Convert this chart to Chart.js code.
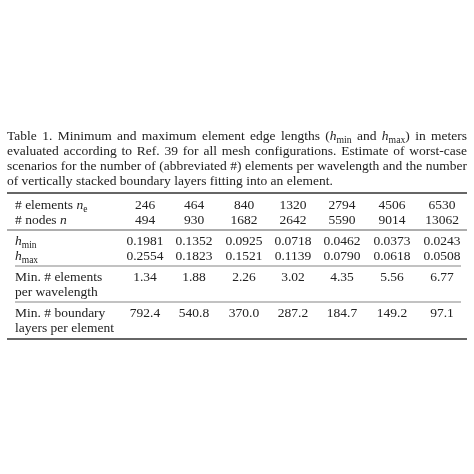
<!DOCTYPE html>
<html>
<head>
<meta charset="utf-8">
<script src="https://cdn.jsdelivr.net/npm/chart.js@4.4.0/dist/chart.umd.min.js"></script>
<style>
  html, body { margin: 0; padding: 0; background: #fff; }
  #wrap { width: 474px; height: 474px; }
</style>
</head>
<body>
<div id="wrap"><canvas id="tbl"></canvas></div>
<script>
// table data
const captionLines = [
  'Table 1. Minimum and maximum element edge lengths (h_min and h_max) in meters',
  'evaluated according to Ref. 39 for all mesh configurations. Estimate of worst-case',
  'scenarios for the number of (abbreviated #) elements per wavelength and the number',
  'of vertically stacked boundary layers fitting into an element.'
];
const elements = ['246', '464', '840', '1320', '2794', '4506', '6530'];
const nodes = ['494', '930', '1682', '2642', '5590', '9014', '13062'];
const hMin = ['0.1981', '0.1352', '0.0925', '0.0718', '0.0462', '0.0373', '0.0243'];
const hMax = ['0.2554', '0.1823', '0.1521', '0.1139', '0.0790', '0.0618', '0.0508'];
const minElemPerWavelength = ['1.34', '1.88', '2.26', '3.02', '4.35', '5.56', '6.77'];
const minBoundaryLayers = ['792.4', '540.8', '370.0', '287.2', '184.7', '149.2', '97.1'];

const FONT = '"Liberation Serif", "DejaVu Serif", serif';
const colX = [145, 194, 244, 293, 342, 392, 442];

// draws caption text with subscripts, justified between x0 and x1
function drawRich(ctx, text, x, y, size, justifyTo) {
  const parts = text.split(/(h_min|h_max)/);
  const pieces = [];
  parts.forEach(p => {
    if (p === 'h_min' || p === 'h_max') {
      pieces.push({ t: 'h', f: 'italic ' + size + 'px ' + FONT, dy: 0 });
      pieces.push({ t: p.slice(2), f: (size * 0.72) + 'px ' + FONT, dy: 2.5 });
    } else if (p) {
      pieces.push({ t: p, f: size + 'px ' + FONT, dy: 0 });
    }
  });
  let total = 0, spaces = 0;
  pieces.forEach(pc => {
    ctx.font = pc.f;
    pc.w = ctx.measureText(pc.t).width;
    total += pc.w;
    spaces += (pc.t.match(/ /g) || []).length;
  });
  const extra = justifyTo && spaces ? (justifyTo - x - total) / spaces : 0;
  let cx = x;
  pieces.forEach(pc => {
    ctx.font = pc.f;
    if (!extra) { ctx.fillText(pc.t, cx, y + pc.dy); cx += pc.w; return; }
    pc.t.split(/( )/).forEach(s => {
      if (s === ' ') { cx += ctx.measureText(' ').width + extra; }
      else if (s) { ctx.fillText(s, cx, y + pc.dy); cx += ctx.measureText(s).width; }
    });
  });
}

const tablePlugin = {
  id: 'tablePlugin',
  afterDraw(chart) {
    const ctx = chart.ctx;
    const xs = chart.scales.x, ys = chart.scales.y;
    const X = v => xs.getPixelForValue(v);
    const Y = v => ys.getPixelForValue(v);
    ctx.save();
    ctx.fillStyle = '#222';
    ctx.textBaseline = 'alphabetic';
    captionLines.forEach((l, i) => {
      drawRich(ctx, l, X(7), Y(140 + i * 15), 13.5, i < 3 ? X(467) : 0);
    });
    ctx.strokeStyle = '#333';
    const rule = (y, w, a = 7, b = 467) => {
      ctx.lineWidth = w; ctx.beginPath();
      ctx.moveTo(X(a), Y(y)); ctx.lineTo(X(b), Y(y)); ctx.stroke();
    };
    rule(193, 1.3);
    rule(230, 0.8);
    rule(266, 0.6, 15, 461);
    rule(302, 0.6, 15, 461);
    rule(339, 1.3);

    const label = (t, y) => { ctx.font = '13.5px ' + FONT; ctx.textAlign = 'left'; ctx.fillText(t, X(15), Y(y)); };
    const row = (vals, y) => {
      ctx.font = '13.5px ' + FONT; ctx.textAlign = 'center';
      vals.forEach((v, i) => ctx.fillText(v, X(colX[i]), Y(y)));
    };
    // row labels with math
    ctx.font = '13.5px ' + FONT; ctx.textAlign = 'left';
    ctx.fillText('# elements ', X(15), Y(209));
    let w = ctx.measureText('# elements ').width;
    ctx.font = 'italic 13.5px ' + FONT; ctx.fillText('n', X(15) + w, Y(209));
    let w2 = ctx.measureText('n').width;
    ctx.font = '9.5px ' + FONT; ctx.fillText('e', X(15) + w + w2, Y(211.5));
    ctx.font = '13.5px ' + FONT; ctx.fillText('# nodes ', X(15), Y(224));
    w = ctx.measureText('# nodes ').width;
    ctx.font = 'italic 13.5px ' + FONT; ctx.fillText('n', X(15) + w, Y(224));
    ['min', 'max'].forEach((s, k) => {
      const y = k ? 260 : 245;
      ctx.font = 'italic 13.5px ' + FONT; ctx.fillText('h', X(15), Y(y));
      const hw = ctx.measureText('h').width;
      ctx.font = '9.5px ' + FONT; ctx.fillText(s, X(15) + hw, Y(y + 2.5));
    });
    row(elements, 209); row(nodes, 224);
    row(hMin, 245); row(hMax, 260);
    label('Min. # elements', 281); label('per wavelength', 296); row(minElemPerWavelength, 281);
    label('Min. # boundary', 317); label('layers per element', 332); row(minBoundaryLayers, 317);
    ctx.restore();
  }
};

new Chart(document.getElementById('tbl'), {
  type: 'scatter',
  data: { datasets: [{ data: [] }] },
  options: {
    responsive: true, maintainAspectRatio: false, animation: false,
    layout: { padding: 0 },
    plugins: { legend: { display: false }, tooltip: { enabled: false } },
    scales: {
      x: { type: 'linear', min: 0, max: 474, display: false },
      y: { type: 'linear', min: 0, max: 474, reverse: true, display: false }
    }
  },
  plugins: [tablePlugin]
});
</script>
</body>
</html>
